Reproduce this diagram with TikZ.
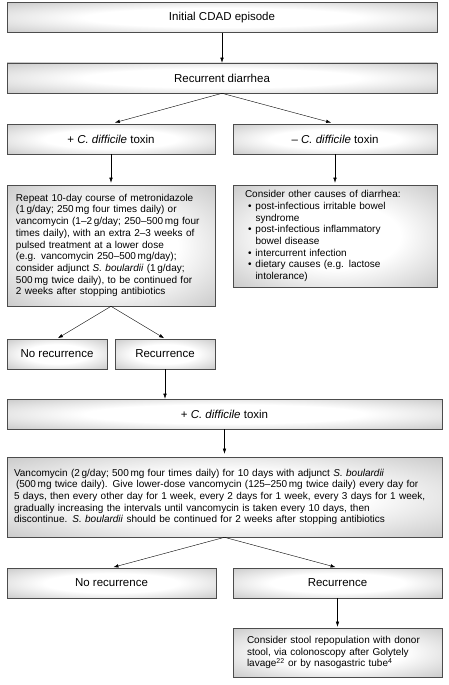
\documentclass[tikz,border=0pt]{standalone}
\usepackage{fontspec}
\setmainfont{Liberation Sans}
\usetikzlibrary{arrows.meta}

\definecolor{edgegray}{gray}{0.3}
\pgfdeclareradialshading{glow}{\pgfpointorigin}{%
  color(0bp)=(white); color(16bp)=(white); color(34bp)=(gray!38); color(50bp)=(gray!78)}

\tikzset{
  box/.style={draw=edgegray, line width=0.6pt, shading=glow,
    minimum height=30pt, font=\fontsize{11.5}{13}\selectfont},
  txtbox/.style={box, align=left, font=\fontsize{10}{11.7}\selectfont},
}

\newcommand{\itm}{\hspace*{3pt}\textbullet\hspace{4pt}}
\newcommand{\ind}{\hphantom{\itm}}

\begin{document}
\begin{tikzpicture}[x=1pt, y=-1pt, >={Latex[length=5pt,width=3.5pt]}]
    \useasboundingbox (0,0) rectangle (448,685);

    % top of the chart
    \node[box, minimum width=430pt] (init) at (222,17.5) {Initial CDAD episode};
    \node[box, minimum width=430pt] (recur) at (222,78) {Recurrent diarrhea};
    \node[box, minimum width=208pt] (pos) at (111,139) {+ \textit{C. difficile} toxin};
    \node[box, minimum width=204pt] (neg) at (335,139) {– \textit{C. difficile} toxin};

    % first-line treatment and other causes
    \node[txtbox, minimum height=121pt, inner xsep=9pt, text width=190pt] (treat) at (111,245.5)
      {Repeat 10-day course of metronidazole\\
       (1\,g/day; 250\,mg four times daily) or\\
       vancomycin (1–2\,g/day; 250–500\,mg four\\
       times daily), with an extra 2–3 weeks of\\
       pulsed treatment at a lower dose\\
       (e.g. vancomycin 250–500\,mg/day);\\
       consider adjunct \textit{S. boulardii} (1\,g/day;\\
       500\,mg twice daily), to be continued for\\
       2 weeks after stopping antibiotics};
    \node[txtbox, minimum height=102pt, inner xsep=12pt, text width=180pt] (other) at (335,236)
      {Consider other causes of diarrhea:\\
       \itm post-infectious irritable bowel\\
       \ind syndrome\\
       \itm post-infectious inflammatory\\
       \ind bowel disease\\
       \itm intercurrent infection\\
       \itm dietary causes (e.g. lactose\\
       \ind intolerance)};

    \node[box, minimum width=100pt] (norecA) at (57,354) {No recurrence};
    \node[box, minimum width=100pt] (recA) at (165,354) {Recurrence};

    % second recurrence
    \node[box, minimum width=435pt] (pos2) at (224.5,414) {+ \textit{C. difficile} toxin};
    \node[txtbox, minimum height=80pt, inner xsep=7pt, text width=421pt] (vanco) at (224.5,497)
      {Vancomycin (2\,g/day; 500\,mg four times daily) for 10 days with adjunct \textit{S. boulardii}\\
       \hspace*{2pt}(500\,mg twice daily). Give lower-dose vancomycin (125–250\,mg twice daily) every day for\\
       5 days, then every other day for 1 week, every 2 days for 1 week, every 3 days for 1 week,\\
       gradually increasing the intervals until vancomycin is taken every 10 days, then\\
       discontinue. \textit{S. boulardii} should be continued for 2 weeks after stopping antibiotics};

    \node[box, minimum width=209pt] (norecB) at (111.5,583) {No recurrence};
    \node[box, minimum width=209pt] (recB) at (337.5,583) {Recurrence};
    \node[txtbox, minimum height=49pt, inner xsep=14pt, text width=181pt] (stool) at (337.5,652.5)
      {Consider stool repopulation with donor\\
       stool, via colonoscopy after Golytely\\
       lavage\textsuperscript{22} or by nasogastric tube\textsuperscript{4}};

    % connectors
    \draw[->] (init) -- (recur);
    \draw[->, shorten >=4pt] (recur.south) -- (pos.north);
    \draw[->, shorten >=4pt] (recur.south) -- (neg.north);
    \draw[->, shorten >=2pt] (pos) -- (treat);
    \draw[->, shorten >=2pt] (neg) -- (other);
    \draw[->, shorten >=1pt] (treat.south) -- (norecA.north);
    \draw[->, shorten >=1pt] (treat.south) -- (recA.north);
    \draw[->] (recA.south) -- (recA.south |- pos2.north);
    \draw[->, shorten >=3pt] (pos2) -- (vanco);
    \draw[->, shorten >=2pt] (vanco.south) -- (norecB.north);
    \draw[->, shorten >=2pt] (vanco.south) -- (recB.north);
    \draw[->, shorten >=1pt] (recB) -- (stool);
\end{tikzpicture}
\end{document}
